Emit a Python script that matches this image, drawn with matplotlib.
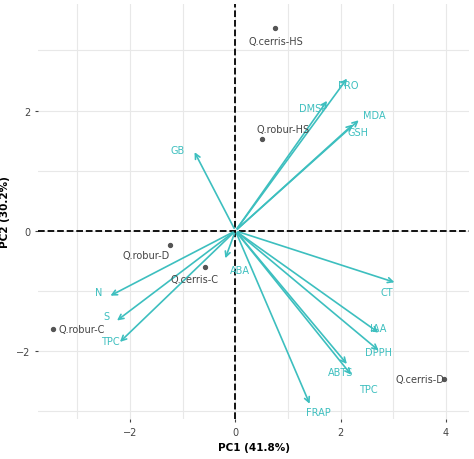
import matplotlib
matplotlib.use("Agg")
import matplotlib.pyplot as plt

samples = ["Q.cerris-HS", "Q.robur-HS", "Q.robur-D", "Q.cerris-C", "Q.robur-C", "Q.cerris-D"]
sx = [0.76, 0.51, -1.24, -0.57, -3.47, 3.96]
sy = [3.38, 1.53, -0.23, -0.60, -1.63, -2.47]
s_off = [(0.0, -0.22), (0.4, 0.17), (-0.45, -0.17), (-0.2, -0.2), (0.55, 0.0), (-0.45, 0.0)]

vars_ = ["PRO", "DMSP", "MDA", "GSH", "GB", "ABA", "N", "S", "TPC", "CT", "IAA", "DPPH", "ABTS", "TPC", "FRAP"]
vx = [2.15, 1.77, 2.38, 2.27, -0.80, -0.21, -2.42, -2.29, -2.23, 3.07, 2.76, 2.76, 2.15, 2.23, 1.43]
vy = [2.57, 2.20, 1.87, 1.80, 1.35, -0.50, -1.10, -1.52, -1.88, -0.87, -1.72, -2.02, -2.25, -2.43, -2.92]
v_off = [(0.0, -0.15), (-0.3, -0.15), (0.25, 0.05), (0.05, -0.15), (-0.3, 0.0), (0.3, -0.15),
         (-0.17, 0.08), (-0.15, 0.1), (-0.15, 0.05), (-0.2, -0.15), (-0.05, 0.1), (-0.05, 0.0),
         (-0.15, -0.1), (0.3, -0.2), (0.15, -0.1)]

teal = "#3dbfbf"
fig, ax = plt.subplots(figsize=(4.74, 4.60), dpi=100)
fig.subplots_adjust(left=0.08, right=0.99, top=0.99, bottom=0.087)
ax.set_xlim(-3.75, 4.44)
ax.set_ylim(-3.13, 3.78)
ax.set_xticks([-2, 0, 2, 4])
ax.set_yticks([-2, 0, 2])
ax.set_xticks([-3, -1, 1, 3], minor=True)
ax.set_yticks([-3, -1, 1, 3], minor=True)
ax.grid(True, which="both", color="#e8e8e8", lw=0.8)
ax.set_axisbelow(True)
for s in ax.spines.values():
    s.set_visible(False)
ax.tick_params(which="both", length=0, labelsize=7, colors="#444444")
ax.tick_params(which="major", length=2)
ax.axhline(0, color="black", ls="--", lw=1.3)
ax.axvline(0, color="black", ls="--", lw=1.3)

for x, y in zip(vx, vy):
    ax.annotate("", xy=(x, y), xytext=(0, 0),
                arrowprops=dict(arrowstyle="->", color=teal, lw=1.2, mutation_scale=9))
for name, x, y, (dx, dy) in zip(vars_, vx, vy, v_off):
    ax.text(x + dx, y + dy, name, color=teal, fontsize=7, ha="center", va="center")

ax.scatter(sx, sy, s=8, color="#555555", zorder=3)
for name, x, y, (dx, dy) in zip(samples, sx, sy, s_off):
    ax.text(x + dx, y + dy, name, color="#444444", fontsize=7, ha="center", va="center")

ax.set_xlabel("PC1 (41.8%)", fontsize=7.5, fontweight="bold")
ax.set_ylabel("PC2 (30.2%)", fontsize=7.5, fontweight="bold")
fig.savefig("out.png", dpi=100)
